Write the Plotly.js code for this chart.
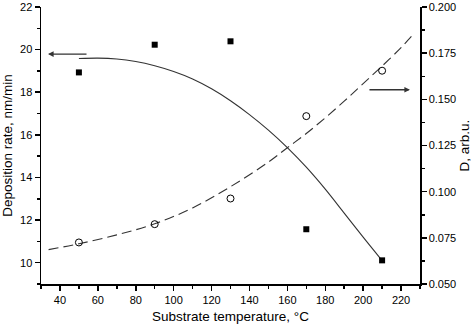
<!DOCTYPE html>
<html>
<head>
<meta charset="utf-8">
<script src="https://cdn.plot.ly/plotly-3.0.1.min.js"></script>
<style>html,body{margin:0;padding:0;background:#fff}#chart{width:474px;height:325px}</style>
</head>
<body>
<div id="chart"></div>
<script>
// measured points
var tempPoints = [50, 90, 130, 170, 210];
var depositionRate = [18.93, 20.23, 20.39, 11.57, 10.11];
var dValues = [0.0725, 0.0824, 0.0963, 0.1409, 0.1655];

// fitted curves
var rateFitT = [50, 60, 70, 80, 90, 100, 110, 120, 130, 140, 150, 160, 170, 180, 190, 200, 210];
var rateFit = [19.58, 19.60, 19.56, 19.44, 19.24, 18.97, 18.62, 18.16, 17.60, 16.95, 16.22, 15.40, 14.48, 13.45, 12.33, 11.20, 10.10];
var dFitT = [34, 50, 70, 90, 110, 130, 150, 160, 170, 180, 190, 200, 210, 220, 227];
var dFit = [0.0686, 0.0718, 0.0766, 0.0826, 0.0912, 0.1027, 0.1160, 0.1238, 0.1315, 0.1400, 0.1490, 0.1585, 0.1680, 0.1780, 0.1858];

var fnt = 'Liberation Sans, Arial, sans-serif';
var traces = [
  {x: rateFitT, y: rateFit, mode: 'lines', line: {color: '#333', width: 1.1, shape: 'spline', smoothing: 0.8}, yaxis: 'y', hoverinfo: 'skip'},
  {x: dFitT, y: dFit, mode: 'lines', line: {color: '#333', width: 1.1, dash: '10px,5px', shape: 'spline'}, yaxis: 'y2', hoverinfo: 'skip'},
  {x: tempPoints, y: depositionRate, mode: 'markers', marker: {symbol: 'square', size: 6, color: '#000'}, yaxis: 'y'},
  {x: tempPoints, y: dValues, mode: 'markers', marker: {symbol: 'circle-open', size: 7, color: '#000', line: {width: 1, color: '#000'}}, yaxis: 'y2'}
];

var axisCommon = {
  showgrid: false, zeroline: false, showline: true, linecolor: '#000', linewidth: 1.5,
  ticks: 'outside', ticklen: 5, tickwidth: 1.5, tickcolor: '#000',
  tickfont: {family: fnt, size: 11, color: '#000'}
};

var layout = {
  width: 474, height: 325,
  margin: {l: 41, r: 54, t: 7, b: 41},
  paper_bgcolor: '#fff', plot_bgcolor: '#fff',
  showlegend: false,
  font: {family: fnt, color: '#000'},
  xaxis: Object.assign({}, axisCommon, {
    range: [30, 230], dtick: 20, tick0: 0,
    minor: {dtick: 10, ticks: 'outside', ticklen: 3, tickwidth: 1.5, tickcolor: '#000'},
    title: {text: 'Substrate temperature, °C', font: {family: fnt, size: 13.5, color: '#000'}, standoff: 7}
  }),
  yaxis: Object.assign({}, axisCommon, {
    range: [9, 22], dtick: 2, tick0: 0,
    minor: {dtick: 1, ticks: 'outside', ticklen: 3, tickwidth: 1.5, tickcolor: '#000'},
    title: {text: 'Deposition rate, nm/min', font: {family: fnt, size: 13.5, color: '#000'}, standoff: 4}
  }),
  yaxis2: Object.assign({}, axisCommon, {
    overlaying: 'y', side: 'right',
    range: [0.05, 0.2], dtick: 0.025, tick0: 0, tickformat: '.3f',
    minor: {dtick: 0.0125, ticks: 'outside', ticklen: 3, tickwidth: 1.5, tickcolor: '#000'},
    title: {text: 'D, arb.u.', font: {family: fnt, size: 13.5, color: '#000'}, standoff: 4}
  }),
  annotations: [
    {x: 33.7, y: 19.79, xref: 'x', yref: 'y', ax: 40, ay: 0, text: '', showarrow: true,
     arrowhead: 2, arrowsize: 0.8, arrowwidth: 1.4, arrowcolor: '#333'},
    {x: 224.7, y: 0.1552, xref: 'x', yref: 'y2', ax: -42, ay: 0, text: '', showarrow: true,
     arrowhead: 2, arrowsize: 0.8, arrowwidth: 1.4, arrowcolor: '#333'}
  ]
};

Plotly.newPlot('chart', traces, layout, {displayModeBar: false, staticPlot: true});
</script>
</body>
</html>
